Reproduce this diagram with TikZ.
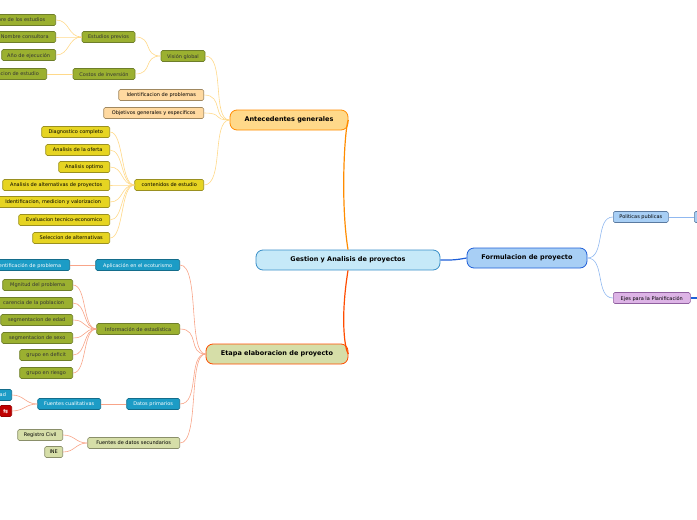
\documentclass[tikz,border=0pt]{standalone}
\usepackage{fontspec}
\setmainfont{DejaVu Sans}
\begin{document}
\begin{tikzpicture}[x=1pt,y=-1pt,
 box/.style={draw,rounded corners=1.5pt,line width=0.6pt,font=\fontsize{5}{6}\selectfont,inner sep=0pt,minimum height=11pt,text depth=0pt},
 olive/.style={box,fill=olive1,draw=olive2,text=black!80},
 peach/.style={box,fill=peach1,draw=peach2},
 yel/.style={box,fill=yel1,draw=yel2},
 teal/.style={box,fill=teal1,draw=teal1!70!black,text=white},
 sage/.style={box,fill=sage1,draw=sage2},
 blu/.style={box,fill=blu1,draw=blu2},
 purp/.style={box,fill=purp1,draw=purp2},
 big/.style={draw,rounded corners=7pt,line width=0.8pt,font=\bfseries\fontsize{6.5}{8}\selectfont,inner sep=0pt,minimum height=20pt},
 cY/.style={draw=yelL,line width=0.6pt},
 cR/.style={draw=redL,line width=0.6pt},
 cB/.style={draw=bluL,line width=0.6pt}]
\definecolor{olive1}{HTML}{9BB030}\definecolor{olive2}{HTML}{6E7E2A}
\definecolor{peach1}{HTML}{FFD9A0}\definecolor{peach2}{HTML}{A08860}
\definecolor{yel1}{HTML}{E6D422}\definecolor{yel2}{HTML}{9A9020}
\definecolor{teal1}{HTML}{1C9CC6}
\definecolor{sage1}{HTML}{D6DEA8}\definecolor{sage2}{HTML}{8A8F6A}
\definecolor{blu1}{HTML}{A8CFF5}\definecolor{blu2}{HTML}{5A7AA0}
\definecolor{purp1}{HTML}{DDB4E6}\definecolor{purp2}{HTML}{9060A0}
\definecolor{rootf}{HTML}{C6E9F8}\definecolor{rootd}{HTML}{3A8FC8}
\definecolor{mainb}{HTML}{1F5FD8}
\definecolor{yelL}{HTML}{FFD98A}\definecolor{redL}{HTML}{F8A488}\definecolor{bluL}{HTML}{90B8F0}
\useasboundingbox (0,0) rectangle (697,520);
% main
\node[big,fill=rootf,draw=rootd,minimum width=184pt] (root) at (348,260) {Gestion y Analisis de proyectos};
\node[big,fill=yelL,draw=orange!90!yellow,minimum width=118pt] (ant) at (289,120) {Antecedentes generales};
\node[big,fill=sage1,draw=orange!60!red,minimum width=142pt] (eta) at (277,354) {Etapa elaboracion de proyecto};
\node[big,fill=blu1,draw=mainb,minimum width=120pt] (for) at (527,258) {Formulacion de proyecto};
\draw[draw=orange!90!yellow,line width=1.2pt] (root.north) .. controls (340,200) and (345,125) .. (ant.east);
\draw[draw=orange!60!red,line width=1.2pt] (root.south) .. controls (340,320) and (345,350) .. (eta.east);
\draw[draw=mainb,line width=1.2pt] (root.east) .. controls (455,260) .. (for.west);
% Antecedentes
\node[olive,minimum width=44pt] (vg) at (183,56) {Visión global};
\node[olive,minimum width=53pt] (ep) at (108.5,37) {Estudios previos};
\node[olive,minimum width=62pt] (ci) at (104,74) {Costos de inversión};
\node[olive,anchor=east,minimum width=80pt] (ne) at (56,20) {Nombre de los estudios};
\node[olive,anchor=east,minimum width=62pt] (nc) at (56,37) {Nombre consultora};
\node[olive,anchor=east,minimum width=54pt] (ae) at (56,55) {Año de ejecución};
\node[olive,anchor=east,minimum width=74pt] (le) at (47,74) {Localizacion de estudio};
\node[peach,anchor=east,minimum width=85pt] (ip) at (204,95) {Identificacion de problemas};
\node[peach,anchor=east,minimum width=100pt] (og) at (204,113) {Objetivos generales y especificos};
\node[yel,anchor=east,minimum width=69pt] (ce) at (204,185) {contenidos de estudio};
\node[yel,anchor=east,minimum width=68pt] (d1) at (110,132) {Diagnostico completo};
\node[yel,anchor=east,minimum width=64pt] (d2) at (110,150) {Analisis de la oferta};
\node[yel,anchor=east,minimum width=51pt] (d3) at (110,167) {Analisis optimo};
\node[yel,anchor=east,minimum width=107pt] (d4) at (110,185) {Analisis de alternativas de proyectos};
\node[yel,anchor=east,minimum width=113pt] (d5) at (110,202) {Identificacion, medicion y valorizacion};
\node[yel,anchor=east,minimum width=91pt] (d6) at (110,220) {Evaluacion tecnico-economico};
\node[yel,anchor=east,minimum width=77pt] (d7) at (110,238) {Seleccion de alternativas};
\foreach \c in {vg,ip,og,ce} \draw[cY] (\c.east) .. controls +(20,0) and +(-18,0) .. (ant.west);
\foreach \c in {ep,ci} \draw[cY] (\c.east) .. controls +(18,0) and +(-18,0) .. (vg.west);
\foreach \c in {ne,nc,ae} \draw[cY] (\c.east) .. controls +(14,0) and +(-14,0) .. (ep.west);
\draw[cY] (le.east) -- (ci.west);
\foreach \c in {d1,d2,d3,d4,d5,d6,d7} \draw[cY] (\c.east) .. controls +(14,0) and +(-14,0) .. (ce.west);
% Etapa
\node[teal,anchor=east,minimum width=84pt] (ae2) at (180,265) {Aplicación en el ecoturismo};
\node[teal,anchor=east,minimum width=84pt] (idp) at (70,265) {Identificación de problema};
\node[olive,anchor=east,minimum width=83pt] (ie) at (180,329) {Información de estadística};
\node[olive,anchor=east,minimum width=70pt] (e1) at (73,285) {Mgnitud del problema};
\node[olive,anchor=east,minimum width=78pt] (e2) at (73,303) {carencia de la poblacion};
\node[olive,anchor=east,minimum width=72pt] (e3) at (73,320) {segmentacion de edad};
\node[olive,anchor=east,minimum width=71pt] (e4) at (73,338) {segmentacion de sexo};
\node[olive,anchor=east,minimum width=53pt] (e5) at (73,355) {grupo en deficit};
\node[olive,anchor=east,minimum width=53pt] (e6) at (73,373) {grupo en riesgo};
\node[teal,anchor=east,minimum width=53pt] (dp) at (180,404) {Datos primarios};
\node[teal,anchor=east,minimum width=63pt] (fc) at (101,404) {Fuentes cualitativas};
\node[teal,anchor=east,minimum width=40pt] (cm) at (12,395) {Comunidad};
\node[box,fill=red!75!black,draw=red!60!black,anchor=east,minimum width=12pt,text=white] (ic) at (12,411) {\fontsize{6}{6}\selectfont\bfseries\char"21C6};
\node[sage,anchor=east,minimum width=92pt] (fs) at (180,443) {Fuentes de datos secundarios};
\node[sage,anchor=east,minimum width=45pt] (rc) at (63,435) {Registro Civil};
\node[sage,anchor=east,minimum width=18pt] (ine) at (63,452) {INE};
\foreach \c in {ae2,ie,dp,fs} \draw[cR] (\c.east) .. controls +(20,0) and +(-18,0) .. (eta.west);
\draw[cR] (idp.east) -- (ae2.west);
\foreach \c in {e1,e2,e3,e4,e5,e6} \draw[cR] (\c.east) .. controls +(14,0) and +(-14,0) .. (ie.west);
\draw[cR] (fc.east) -- (dp.west);
\foreach \c in {cm,ic} \draw[cR] (\c.east) .. controls +(12,0) and +(-12,0) .. (fc.west);
\foreach \c in {rc,ine} \draw[cR] (\c.east) .. controls +(12,0) and +(-12,0) .. (fs.west);
% Formulacion
\node[blu,anchor=west,minimum width=55pt] (pp) at (613,217) {Politicas publicas};
\node[blu,anchor=west,minimum width=40pt] (px) at (694,217) {};
\node[purp,anchor=west,minimum width=77pt] (ej) at (613,298) {Ejes para la Planificación};
\coordinate (ejr) at (697,298);
\foreach \c in {pp,ej} \draw[cB] (for.east) .. controls +(18,0) and +(-18,0) .. (\c.west);
\draw[cB] (pp.east) -- (px.west);
\draw[draw=mainb,line width=1.2pt] (ej.east) -- (ejr);
\end{tikzpicture}
\end{document}
